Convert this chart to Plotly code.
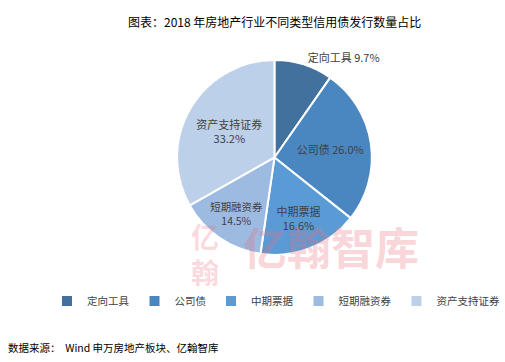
import plotly.graph_objects as go

categories = ["定向工具", "公司债", "中期票据", "短期融资券", "资产支持证券"]
values = [9.7, 26.0, 16.6, 14.5, 33.2]
colors = ["#41719C", "#4A87C0", "#5B9BD5", "#9DBAE0", "#BDD0EA"]
title_text = "图表：2018 年房地产行业不同类型信用债发行数量占比"
source_text = "数据来源：  Wind 申万房地产板块、亿翰智库"

font_family = "Noto Sans CJK SC, Microsoft YaHei, sans-serif"

templates = [
    "%{label} %{value:.1f}%",
    "%{label} %{value:.1f}%",
    "%{label}<br>%{value:.1f}%",
    "%{label}<br>%{value:.1f}%",
    "%{label}<br>%{value:.1f}%",
]
positions = ["outside", "inside", "inside", "inside", "inside"]

fig = go.Figure()

fig.add_trace(go.Pie(
    labels=categories,
    values=values,
    sort=False,
    direction="clockwise",
    rotation=0,
    marker=dict(colors=colors, line=dict(color="white", width=2)),
    texttemplate=templates,
    textposition=positions,
    insidetextorientation="horizontal",
    textfont=dict(family=font_family, size=11, color="#404040"),
    outsidetextfont=dict(family=font_family, size=11, color="#404040"),
    hoverinfo="label+percent",
    domain=dict(x=[0.35, 0.737], y=[0.296, 0.834]),
    showlegend=True,
))

# watermark (semi-transparent)
fig.add_annotation(text="<b>亿翰智库</b>", x=0.655, y=1 - 246 / 362, xref="paper", yref="paper",
                   yanchor="middle", showarrow=False,
                   font=dict(family=font_family, size=44, color="rgba(235,110,125,0.30)"))
fig.add_annotation(text="<b>亿<br>翰</b>", x=0.405, y=1 - 254 / 362, xref="paper", yref="paper",
                   yanchor="middle", showarrow=False,
                   font=dict(family=font_family, size=28, color="rgba(235,110,125,0.25)"))

fig.add_annotation(text=title_text, x=0.543, y=1 - 22 / 362, xref="paper", yref="paper",
                   yanchor="middle", showarrow=False,
                   font=dict(family=font_family, size=12, color="#000000"))
fig.add_annotation(text=source_text, x=0.012, y=1 - 347 / 362, xref="paper", yref="paper",
                   xanchor="left", yanchor="middle", showarrow=False,
                   font=dict(family=font_family, size=10.5, color="#000000"))

fig.update_layout(
    width=505, height=362,
    margin=dict(l=0, r=0, t=0, b=0),
    paper_bgcolor="white",
    plot_bgcolor="white",
    legend=dict(orientation="h", x=0.55, y=1 - 301 / 362, xanchor="center", yanchor="middle",
                font=dict(family=font_family, size=10.5, color="#404040"),
                itemwidth=30, tracegroupgap=0),
    font=dict(family=font_family),
)

fig.write_html("out.html")
